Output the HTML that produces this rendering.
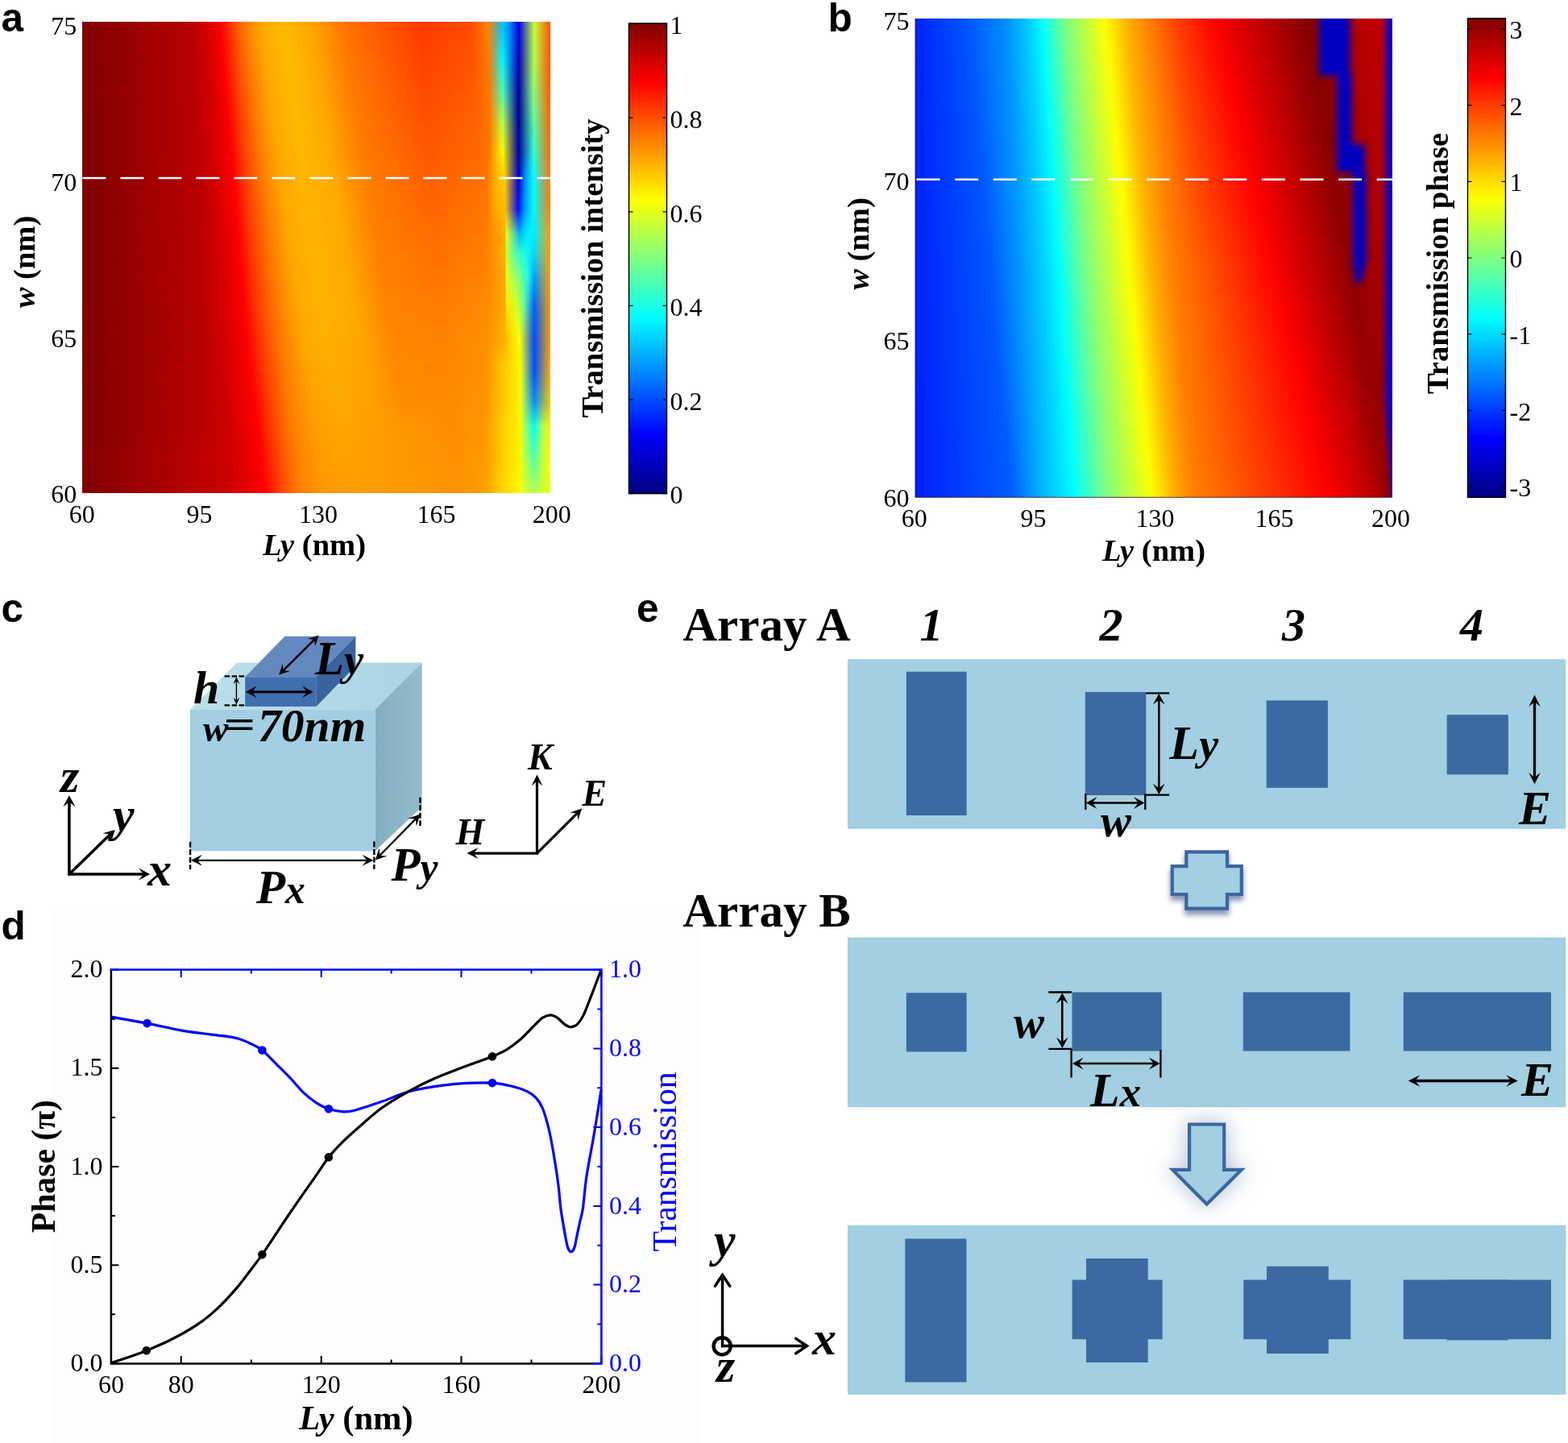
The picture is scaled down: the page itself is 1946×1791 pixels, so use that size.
<!DOCTYPE html>
<html lang="en"><head><meta charset="utf-8"><title>Figure</title>
<style>
html,body{margin:0;padding:0;background:#fff;}
svg{display:block;}
.se{font-family:'Liberation Serif',serif;}
.sa{font-family:'Liberation Sans',sans-serif;}
</style></head>
<body>
<svg width="1946" height="1791" viewBox="0 0 1946 1791">
<defs>
<linearGradient id="ga0"><stop offset="0.0000" stop-color="#800000"/><stop offset="0.2338" stop-color="#b80000"/><stop offset="0.2613" stop-color="#ce0000"/><stop offset="0.2681" stop-color="#d60000"/><stop offset="0.2888" stop-color="#f30000"/><stop offset="0.2956" stop-color="#fe0000"/><stop offset="0.3231" stop-color="#ff4600"/><stop offset="0.3506" stop-color="#ff8100"/><stop offset="0.3781" stop-color="#ffa400"/><stop offset="0.3850" stop-color="#ffaa00"/><stop offset="0.4263" stop-color="#ffbc00"/><stop offset="0.4881" stop-color="#ffa800"/><stop offset="0.5569" stop-color="#ff7500"/><stop offset="0.7288" stop-color="#ff3800"/><stop offset="0.8250" stop-color="#ff4b00"/><stop offset="0.8319" stop-color="#ff4e00"/><stop offset="0.8499" stop-color="#ff6a00"/><stop offset="0.8668" stop-color="#ff8400"/><stop offset="0.8981" stop-color="#00bdff"/><stop offset="0.9118" stop-color="#0094ff"/><stop offset="0.9319" stop-color="#0000f0"/><stop offset="0.9651" stop-color="#c7ff38"/><stop offset="1.0000" stop-color="#ff4c00"/></linearGradient><linearGradient id="ga1"><stop offset="0.0000" stop-color="#800000"/><stop offset="0.2338" stop-color="#b70000"/><stop offset="0.2681" stop-color="#d00000"/><stop offset="0.2956" stop-color="#f30000"/><stop offset="0.3025" stop-color="#fe0000"/><stop offset="0.3300" stop-color="#ff4400"/><stop offset="0.3575" stop-color="#ff7c00"/><stop offset="0.3919" stop-color="#ffa800"/><stop offset="0.4400" stop-color="#ffbb00"/><stop offset="0.5019" stop-color="#ffa700"/><stop offset="0.5706" stop-color="#ff7700"/><stop offset="0.7288" stop-color="#ff4200"/><stop offset="0.8319" stop-color="#ff5400"/><stop offset="0.8388" stop-color="#ff5800"/><stop offset="0.8499" stop-color="#ff6500"/><stop offset="0.8671" stop-color="#ff7800"/><stop offset="0.8981" stop-color="#00faff"/><stop offset="0.9319" stop-color="#0000bd"/><stop offset="0.9651" stop-color="#b3ff4c"/><stop offset="1.0000" stop-color="#ff4c00"/></linearGradient><linearGradient id="ga2"><stop offset="0.0000" stop-color="#800000"/><stop offset="0.2406" stop-color="#b90000"/><stop offset="0.2750" stop-color="#d20000"/><stop offset="0.3025" stop-color="#f50000"/><stop offset="0.3094" stop-color="#ff0000"/><stop offset="0.3369" stop-color="#ff4300"/><stop offset="0.3644" stop-color="#ff7800"/><stop offset="0.3713" stop-color="#ff8300"/><stop offset="0.3988" stop-color="#ffa400"/><stop offset="0.4056" stop-color="#ffa900"/><stop offset="0.4469" stop-color="#ffb900"/><stop offset="0.4538" stop-color="#ffb900"/><stop offset="0.5156" stop-color="#ffa600"/><stop offset="0.5775" stop-color="#ff7b00"/><stop offset="0.7356" stop-color="#ff4a00"/><stop offset="0.8388" stop-color="#ff5d00"/><stop offset="0.8499" stop-color="#ff6500"/><stop offset="0.8689" stop-color="#ff7500"/><stop offset="0.8981" stop-color="#57ffa8"/><stop offset="0.9319" stop-color="#00009e"/><stop offset="0.9634" stop-color="#80ff80"/><stop offset="1.0000" stop-color="#ff5700"/></linearGradient><linearGradient id="ga3"><stop offset="0.0000" stop-color="#800000"/><stop offset="0.2406" stop-color="#b80000"/><stop offset="0.2750" stop-color="#d00000"/><stop offset="0.2819" stop-color="#d60000"/><stop offset="0.3094" stop-color="#f70000"/><stop offset="0.3163" stop-color="#ff0400"/><stop offset="0.3438" stop-color="#ff4500"/><stop offset="0.3713" stop-color="#ff7800"/><stop offset="0.3781" stop-color="#ff8300"/><stop offset="0.4056" stop-color="#ffa300"/><stop offset="0.4125" stop-color="#ffa900"/><stop offset="0.4606" stop-color="#ffb900"/><stop offset="0.5225" stop-color="#ffa800"/><stop offset="0.5913" stop-color="#ff7a00"/><stop offset="0.7356" stop-color="#ff5200"/><stop offset="0.8457" stop-color="#ff6400"/><stop offset="0.8499" stop-color="#ff6800"/><stop offset="0.8689" stop-color="#ff7500"/><stop offset="0.8981" stop-color="#bdff42"/><stop offset="0.9316" stop-color="#000094"/><stop offset="0.9646" stop-color="#57ffa8"/><stop offset="1.0000" stop-color="#ff6100"/></linearGradient><linearGradient id="ga4"><stop offset="0.0000" stop-color="#800000"/><stop offset="0.2406" stop-color="#b70000"/><stop offset="0.2819" stop-color="#d30000"/><stop offset="0.3163" stop-color="#fa0000"/><stop offset="0.3231" stop-color="#ff0800"/><stop offset="0.3438" stop-color="#ff3900"/><stop offset="0.3506" stop-color="#ff4800"/><stop offset="0.3781" stop-color="#ff7800"/><stop offset="0.3850" stop-color="#ff8300"/><stop offset="0.4194" stop-color="#ffa900"/><stop offset="0.4675" stop-color="#ffb800"/><stop offset="0.5294" stop-color="#ffa900"/><stop offset="0.5981" stop-color="#ff7c00"/><stop offset="0.7425" stop-color="#ff5700"/><stop offset="0.8499" stop-color="#ff6b00"/><stop offset="0.8689" stop-color="#ff7600"/><stop offset="0.8981" stop-color="#fffa00"/><stop offset="0.9316" stop-color="#00009e"/><stop offset="0.9642" stop-color="#2effd1"/><stop offset="1.0000" stop-color="#ff6b00"/></linearGradient><linearGradient id="ga5"><stop offset="0.0000" stop-color="#800000"/><stop offset="0.2406" stop-color="#b70000"/><stop offset="0.2819" stop-color="#d10000"/><stop offset="0.2888" stop-color="#d60000"/><stop offset="0.3231" stop-color="#fd0000"/><stop offset="0.3300" stop-color="#ff0e00"/><stop offset="0.3506" stop-color="#ff3e00"/><stop offset="0.3850" stop-color="#ff7a00"/><stop offset="0.3919" stop-color="#ff8400"/><stop offset="0.4263" stop-color="#ffa900"/><stop offset="0.4744" stop-color="#ffb700"/><stop offset="0.5431" stop-color="#ffa700"/><stop offset="0.6050" stop-color="#ff7f00"/><stop offset="0.7425" stop-color="#ff5e00"/><stop offset="0.8499" stop-color="#ff6f00"/><stop offset="0.8637" stop-color="#ff7600"/><stop offset="0.8826" stop-color="#ffb300"/><stop offset="0.9015" stop-color="#ffd100"/><stop offset="0.9316" stop-color="#0000d1"/><stop offset="0.9479" stop-color="#009eff"/><stop offset="0.9634" stop-color="#05fffa"/><stop offset="1.0000" stop-color="#ff7500"/></linearGradient><linearGradient id="ga6"><stop offset="0.0000" stop-color="#800000"/><stop offset="0.2475" stop-color="#b80000"/><stop offset="0.2888" stop-color="#d30000"/><stop offset="0.3300" stop-color="#ff0100"/><stop offset="0.3575" stop-color="#ff3f00"/><stop offset="0.3919" stop-color="#ff7900"/><stop offset="0.3988" stop-color="#ff8300"/><stop offset="0.4331" stop-color="#ffa700"/><stop offset="0.4813" stop-color="#ffb500"/><stop offset="0.5500" stop-color="#ffa900"/><stop offset="0.6188" stop-color="#ff7f00"/><stop offset="0.7494" stop-color="#ff6500"/><stop offset="0.8499" stop-color="#ff7500"/><stop offset="0.8637" stop-color="#ff7a00"/><stop offset="0.8826" stop-color="#ffa800"/><stop offset="0.9032" stop-color="#ffbd00"/><stop offset="0.9307" stop-color="#000fff"/><stop offset="0.9445" stop-color="#0094ff"/><stop offset="0.9634" stop-color="#00faff"/><stop offset="1.0000" stop-color="#ff8000"/></linearGradient><linearGradient id="ga7"><stop offset="0.0000" stop-color="#800000"/><stop offset="0.2475" stop-color="#b80000"/><stop offset="0.2956" stop-color="#d60000"/><stop offset="0.3300" stop-color="#fa0000"/><stop offset="0.3369" stop-color="#ff0600"/><stop offset="0.3644" stop-color="#ff4300"/><stop offset="0.3988" stop-color="#ff7a00"/><stop offset="0.4400" stop-color="#ffa700"/><stop offset="0.4881" stop-color="#ffb400"/><stop offset="0.5569" stop-color="#ffa900"/><stop offset="0.6256" stop-color="#ff8000"/><stop offset="0.7494" stop-color="#ff6b00"/><stop offset="0.8499" stop-color="#ff7a00"/><stop offset="0.8637" stop-color="#ff7e00"/><stop offset="0.9032" stop-color="#ffb300"/><stop offset="0.9058" stop-color="#e5ff1a"/><stop offset="0.9342" stop-color="#00b2ff"/><stop offset="0.9514" stop-color="#00f0ff"/><stop offset="0.9651" stop-color="#00f0ff"/><stop offset="1.0000" stop-color="#ff9e00"/></linearGradient><linearGradient id="ga8"><stop offset="0.0000" stop-color="#800000"/><stop offset="0.2475" stop-color="#b70000"/><stop offset="0.2956" stop-color="#d40000"/><stop offset="0.3369" stop-color="#fe0000"/><stop offset="0.3644" stop-color="#ff3b00"/><stop offset="0.3713" stop-color="#ff4800"/><stop offset="0.4056" stop-color="#ff7e00"/><stop offset="0.4469" stop-color="#ffa800"/><stop offset="0.4950" stop-color="#ffb400"/><stop offset="0.5638" stop-color="#ffa900"/><stop offset="0.6325" stop-color="#ff8100"/><stop offset="0.7563" stop-color="#ff7000"/><stop offset="0.8499" stop-color="#ff7e00"/><stop offset="0.8637" stop-color="#ff8100"/><stop offset="0.9032" stop-color="#ffb300"/><stop offset="0.9058" stop-color="#c7ff38"/><stop offset="0.9256" stop-color="#4dffb2"/><stop offset="0.9462" stop-color="#1affe5"/><stop offset="0.9634" stop-color="#00dbff"/><stop offset="1.0000" stop-color="#ff9e00"/></linearGradient><linearGradient id="ga9"><stop offset="0.0000" stop-color="#800000"/><stop offset="0.2544" stop-color="#ba0000"/><stop offset="0.3025" stop-color="#d70000"/><stop offset="0.3369" stop-color="#fa0000"/><stop offset="0.3438" stop-color="#ff0400"/><stop offset="0.3713" stop-color="#ff3f00"/><stop offset="0.4125" stop-color="#ff7f00"/><stop offset="0.4538" stop-color="#ffa800"/><stop offset="0.5019" stop-color="#ffb300"/><stop offset="0.5706" stop-color="#ffa900"/><stop offset="0.6394" stop-color="#ff8200"/><stop offset="0.7563" stop-color="#ff7500"/><stop offset="0.8499" stop-color="#ff8300"/><stop offset="0.8637" stop-color="#ff8500"/><stop offset="0.9032" stop-color="#ffa800"/><stop offset="0.9058" stop-color="#e5ff1a"/><stop offset="0.9342" stop-color="#80ff80"/><stop offset="0.9514" stop-color="#1affe5"/><stop offset="0.9651" stop-color="#009eff"/><stop offset="1.0000" stop-color="#ff9e00"/></linearGradient><linearGradient id="ga10"><stop offset="0.0000" stop-color="#800000"/><stop offset="0.2544" stop-color="#b80000"/><stop offset="0.3025" stop-color="#d50000"/><stop offset="0.3438" stop-color="#fc0000"/><stop offset="0.3506" stop-color="#ff0800"/><stop offset="0.3781" stop-color="#ff4200"/><stop offset="0.4194" stop-color="#ff7f00"/><stop offset="0.4606" stop-color="#ffa800"/><stop offset="0.5156" stop-color="#ffb300"/><stop offset="0.5844" stop-color="#ffa800"/><stop offset="0.6463" stop-color="#ff8500"/><stop offset="0.7631" stop-color="#ff7c00"/><stop offset="0.8499" stop-color="#ff8900"/><stop offset="0.8637" stop-color="#ff8b00"/><stop offset="0.9032" stop-color="#ffa800"/><stop offset="0.9058" stop-color="#ffe500"/><stop offset="0.9290" stop-color="#d1ff2e"/><stop offset="0.9428" stop-color="#6bff94"/><stop offset="0.9651" stop-color="#0061ff"/><stop offset="1.0000" stop-color="#ff9e00"/></linearGradient><linearGradient id="ga11"><stop offset="0.0000" stop-color="#800000"/><stop offset="0.2544" stop-color="#b80000"/><stop offset="0.3094" stop-color="#d70000"/><stop offset="0.3506" stop-color="#fc0000"/><stop offset="0.3575" stop-color="#ff0800"/><stop offset="0.3850" stop-color="#ff4100"/><stop offset="0.4263" stop-color="#ff7d00"/><stop offset="0.4675" stop-color="#ffa400"/><stop offset="0.4744" stop-color="#ffa800"/><stop offset="0.5225" stop-color="#ffb000"/><stop offset="0.5981" stop-color="#ffa500"/><stop offset="0.6600" stop-color="#ff8700"/><stop offset="0.7700" stop-color="#ff8200"/><stop offset="0.8499" stop-color="#ff8e00"/><stop offset="0.8637" stop-color="#ff9000"/><stop offset="0.9032" stop-color="#ffb300"/><stop offset="0.9170" stop-color="#ffdb00"/><stop offset="0.9342" stop-color="#faff05"/><stop offset="0.9651" stop-color="#004dff"/><stop offset="1.0000" stop-color="#ff9e00"/></linearGradient><linearGradient id="ga12"><stop offset="0.0000" stop-color="#800000"/><stop offset="0.2544" stop-color="#b80000"/><stop offset="0.3094" stop-color="#d30000"/><stop offset="0.3575" stop-color="#fb0000"/><stop offset="0.3644" stop-color="#ff0600"/><stop offset="0.3919" stop-color="#ff3f00"/><stop offset="0.4331" stop-color="#ff7c00"/><stop offset="0.4813" stop-color="#ffa400"/><stop offset="0.5363" stop-color="#ffac00"/><stop offset="0.6050" stop-color="#ffa400"/><stop offset="0.6738" stop-color="#ff8900"/><stop offset="0.7769" stop-color="#ff8500"/><stop offset="0.8499" stop-color="#ff9100"/><stop offset="0.8637" stop-color="#ff9300"/><stop offset="0.8912" stop-color="#ffbd00"/><stop offset="0.9350" stop-color="#fff500"/><stop offset="0.9376" stop-color="#dbff24"/><stop offset="0.9651" stop-color="#004dff"/><stop offset="1.0000" stop-color="#ffb300"/></linearGradient><linearGradient id="ga13"><stop offset="0.0000" stop-color="#800000"/><stop offset="0.2544" stop-color="#b80000"/><stop offset="0.3094" stop-color="#d00000"/><stop offset="0.3644" stop-color="#fb0000"/><stop offset="0.3713" stop-color="#ff0300"/><stop offset="0.3988" stop-color="#ff3d00"/><stop offset="0.4400" stop-color="#ff7a00"/><stop offset="0.4469" stop-color="#ff8200"/><stop offset="0.4881" stop-color="#ff9f00"/><stop offset="0.5431" stop-color="#ffa900"/><stop offset="0.6188" stop-color="#ffa000"/><stop offset="0.6875" stop-color="#ff8c00"/><stop offset="0.7906" stop-color="#ff8a00"/><stop offset="0.8499" stop-color="#ff9500"/><stop offset="0.8637" stop-color="#ff9700"/><stop offset="0.8912" stop-color="#ffbd00"/><stop offset="0.9350" stop-color="#fff500"/><stop offset="0.9376" stop-color="#dbff24"/><stop offset="0.9651" stop-color="#0094ff"/><stop offset="1.0000" stop-color="#ffc700"/></linearGradient><linearGradient id="ga14"><stop offset="0.0000" stop-color="#800000"/><stop offset="0.2544" stop-color="#b80000"/><stop offset="0.3163" stop-color="#d20000"/><stop offset="0.3713" stop-color="#fc0000"/><stop offset="0.3781" stop-color="#ff0500"/><stop offset="0.4056" stop-color="#ff3f00"/><stop offset="0.4469" stop-color="#ff7c00"/><stop offset="0.4538" stop-color="#ff8200"/><stop offset="0.4950" stop-color="#ff9d00"/><stop offset="0.5500" stop-color="#ffa600"/><stop offset="0.7906" stop-color="#ff8c00"/><stop offset="0.8499" stop-color="#ff9700"/><stop offset="0.8637" stop-color="#ff9a00"/><stop offset="0.8912" stop-color="#ffc700"/><stop offset="0.9350" stop-color="#fff500"/><stop offset="0.9376" stop-color="#dbff24"/><stop offset="0.9651" stop-color="#05fffa"/><stop offset="0.9840" stop-color="#b3ff4c"/><stop offset="1.0000" stop-color="#fff000"/></linearGradient><linearGradient id="ga15"><stop offset="0.0000" stop-color="#800000"/><stop offset="0.3163" stop-color="#ce0000"/><stop offset="0.3781" stop-color="#fb0000"/><stop offset="0.3850" stop-color="#ff0300"/><stop offset="0.4125" stop-color="#ff3c00"/><stop offset="0.4538" stop-color="#ff7a00"/><stop offset="0.4606" stop-color="#ff8100"/><stop offset="0.5088" stop-color="#ff9c00"/><stop offset="0.5638" stop-color="#ffa200"/><stop offset="0.8044" stop-color="#ff9000"/><stop offset="0.8499" stop-color="#ff9a00"/><stop offset="0.8637" stop-color="#ff9d00"/><stop offset="0.8912" stop-color="#ffc700"/><stop offset="0.9350" stop-color="#fff500"/><stop offset="0.9376" stop-color="#e5ff1a"/><stop offset="0.9651" stop-color="#4dffb2"/><stop offset="0.9840" stop-color="#c7ff38"/><stop offset="1.0000" stop-color="#fffa00"/></linearGradient><linearGradient id="ga16"><stop offset="0.0000" stop-color="#800000"/><stop offset="0.3163" stop-color="#cb0000"/><stop offset="0.3919" stop-color="#ff0000"/><stop offset="0.4194" stop-color="#ff3900"/><stop offset="0.4263" stop-color="#ff4600"/><stop offset="0.4606" stop-color="#ff7800"/><stop offset="0.4675" stop-color="#ff8000"/><stop offset="0.5156" stop-color="#ff9700"/><stop offset="0.5775" stop-color="#ff9e00"/><stop offset="0.8113" stop-color="#ff9400"/><stop offset="0.8499" stop-color="#ff9d00"/><stop offset="0.8637" stop-color="#ffa100"/><stop offset="0.8912" stop-color="#ffd100"/><stop offset="0.9350" stop-color="#fff500"/><stop offset="0.9376" stop-color="#e5ff1a"/><stop offset="0.9651" stop-color="#b3ff4c"/><stop offset="1.0000" stop-color="#e5ff1a"/></linearGradient>
<linearGradient id="gb0"><stop offset="0.0000" stop-color="#0024ff"/><stop offset="0.1081" stop-color="#0054ff"/><stop offset="0.1893" stop-color="#008fff"/><stop offset="0.2366" stop-color="#00cdff"/><stop offset="0.2636" stop-color="#00fcff"/><stop offset="0.2704" stop-color="#0dfff2"/><stop offset="0.3109" stop-color="#73ff8c"/><stop offset="0.3177" stop-color="#82ff7d"/><stop offset="0.3920" stop-color="#f6ff09"/><stop offset="0.3988" stop-color="#fffe00"/><stop offset="0.4393" stop-color="#ffb800"/><stop offset="0.4461" stop-color="#ffaf00"/><stop offset="0.5475" stop-color="#ff4100"/><stop offset="0.6218" stop-color="#ff0300"/><stop offset="0.6286" stop-color="#fd0000"/><stop offset="0.8246" stop-color="#810000"/><stop offset="0.8314" stop-color="#820000"/><stop offset="0.9057" stop-color="#b10000"/><stop offset="1.0000" stop-color="#c70000"/></linearGradient><linearGradient id="gb1"><stop offset="0.0000" stop-color="#0023ff"/><stop offset="0.1149" stop-color="#0052ff"/><stop offset="0.1960" stop-color="#0091ff"/><stop offset="0.2501" stop-color="#00d6ff"/><stop offset="0.2704" stop-color="#00f9ff"/><stop offset="0.2771" stop-color="#08fff7"/><stop offset="0.3244" stop-color="#7aff85"/><stop offset="0.3785" stop-color="#d1ff2e"/><stop offset="0.4055" stop-color="#f8ff07"/><stop offset="0.4123" stop-color="#fffb00"/><stop offset="0.4529" stop-color="#ffb600"/><stop offset="0.5678" stop-color="#ff4100"/><stop offset="0.6556" stop-color="#ff0000"/><stop offset="0.8449" stop-color="#840000"/><stop offset="0.8516" stop-color="#850000"/><stop offset="0.9192" stop-color="#af0000"/><stop offset="1.0000" stop-color="#c10000"/></linearGradient><linearGradient id="gb2"><stop offset="0.0000" stop-color="#0022ff"/><stop offset="0.1284" stop-color="#0054ff"/><stop offset="0.2028" stop-color="#0093ff"/><stop offset="0.2568" stop-color="#00d5ff"/><stop offset="0.2771" stop-color="#00f6ff"/><stop offset="0.2839" stop-color="#04fffb"/><stop offset="0.3380" stop-color="#81ff7e"/><stop offset="0.4191" stop-color="#faff05"/><stop offset="0.4258" stop-color="#fff900"/><stop offset="0.4664" stop-color="#ffb300"/><stop offset="0.5813" stop-color="#ff4600"/><stop offset="0.6827" stop-color="#ff0100"/><stop offset="0.8652" stop-color="#870000"/><stop offset="0.8719" stop-color="#890000"/><stop offset="0.9260" stop-color="#a90000"/><stop offset="1.0000" stop-color="#ba0000"/></linearGradient><linearGradient id="gb3"><stop offset="0.0000" stop-color="#0022ff"/><stop offset="0.1419" stop-color="#0056ff"/><stop offset="0.2163" stop-color="#009cff"/><stop offset="0.2636" stop-color="#00d5ff"/><stop offset="0.2906" stop-color="#00feff"/><stop offset="0.3447" stop-color="#79ff86"/><stop offset="0.3515" stop-color="#85ff7a"/><stop offset="0.4326" stop-color="#fcff03"/><stop offset="0.4393" stop-color="#fff700"/><stop offset="0.4799" stop-color="#ffb200"/><stop offset="0.5272" stop-color="#ff7f00"/><stop offset="0.6083" stop-color="#ff4100"/><stop offset="0.7097" stop-color="#ff0300"/><stop offset="0.7165" stop-color="#fe0000"/><stop offset="0.8854" stop-color="#8b0000"/><stop offset="0.8922" stop-color="#8c0000"/><stop offset="0.9395" stop-color="#a70000"/><stop offset="1.0000" stop-color="#b40000"/></linearGradient><linearGradient id="gb4"><stop offset="0.0000" stop-color="#0021ff"/><stop offset="0.1487" stop-color="#0055ff"/><stop offset="0.1555" stop-color="#0059ff"/><stop offset="0.2230" stop-color="#009dff"/><stop offset="0.2771" stop-color="#00deff"/><stop offset="0.2974" stop-color="#00fcff"/><stop offset="0.3042" stop-color="#0afff5"/><stop offset="0.3582" stop-color="#80ff80"/><stop offset="0.4461" stop-color="#feff01"/><stop offset="0.4934" stop-color="#ffb000"/><stop offset="0.5407" stop-color="#ff7e00"/><stop offset="0.7435" stop-color="#ff0000"/><stop offset="0.9057" stop-color="#8e0000"/><stop offset="0.9125" stop-color="#8f0000"/><stop offset="0.9530" stop-color="#a40000"/><stop offset="1.0000" stop-color="#ad0000"/></linearGradient><linearGradient id="gb5"><stop offset="0.0000" stop-color="#0021ff"/><stop offset="0.1622" stop-color="#0057ff"/><stop offset="0.1690" stop-color="#005cff"/><stop offset="0.2839" stop-color="#00ddff"/><stop offset="0.3042" stop-color="#00faff"/><stop offset="0.3109" stop-color="#06fff9"/><stop offset="0.3650" stop-color="#78ff87"/><stop offset="0.3717" stop-color="#84ff7b"/><stop offset="0.4529" stop-color="#f7ff08"/><stop offset="0.4596" stop-color="#fffe00"/><stop offset="0.5002" stop-color="#ffb800"/><stop offset="0.5069" stop-color="#ffaf00"/><stop offset="0.5475" stop-color="#ff8200"/><stop offset="0.7705" stop-color="#ff0200"/><stop offset="0.7773" stop-color="#fd0000"/><stop offset="0.9057" stop-color="#a20000"/><stop offset="0.9260" stop-color="#910000"/><stop offset="0.9665" stop-color="#a00000"/><stop offset="1.0000" stop-color="#a70000"/></linearGradient><linearGradient id="gb6"><stop offset="0.0000" stop-color="#0020ff"/><stop offset="0.1757" stop-color="#0059ff"/><stop offset="0.2906" stop-color="#00ddff"/><stop offset="0.3109" stop-color="#00f7ff"/><stop offset="0.3177" stop-color="#02fffd"/><stop offset="0.3785" stop-color="#7eff81"/><stop offset="0.4664" stop-color="#f8ff07"/><stop offset="0.4731" stop-color="#fffc00"/><stop offset="0.5137" stop-color="#ffb600"/><stop offset="0.5610" stop-color="#ff7f00"/><stop offset="0.8043" stop-color="#ff0000"/><stop offset="0.9260" stop-color="#a70000"/><stop offset="0.9463" stop-color="#940000"/><stop offset="1.0000" stop-color="#a10000"/></linearGradient><linearGradient id="gb7"><stop offset="0.0000" stop-color="#001fff"/><stop offset="0.1893" stop-color="#005aff"/><stop offset="0.2501" stop-color="#00a9ff"/><stop offset="0.3244" stop-color="#00feff"/><stop offset="0.3920" stop-color="#82ff7d"/><stop offset="0.4799" stop-color="#faff05"/><stop offset="0.4867" stop-color="#fffa00"/><stop offset="0.5272" stop-color="#ffb300"/><stop offset="0.5678" stop-color="#ff8400"/><stop offset="0.5745" stop-color="#ff7e00"/><stop offset="0.8314" stop-color="#ff0100"/><stop offset="0.9125" stop-color="#c90000"/><stop offset="0.9665" stop-color="#970000"/><stop offset="1.0000" stop-color="#9a0000"/></linearGradient><linearGradient id="gb8"><stop offset="0.0000" stop-color="#001fff"/><stop offset="0.2028" stop-color="#005dff"/><stop offset="0.2568" stop-color="#00abff"/><stop offset="0.3312" stop-color="#00fcff"/><stop offset="0.3380" stop-color="#08fff7"/><stop offset="0.3988" stop-color="#7cff83"/><stop offset="0.4934" stop-color="#fcff03"/><stop offset="0.5002" stop-color="#fff800"/><stop offset="0.5407" stop-color="#ffb200"/><stop offset="0.5813" stop-color="#ff8200"/><stop offset="0.8584" stop-color="#ff0200"/><stop offset="0.8652" stop-color="#fe0000"/><stop offset="0.9463" stop-color="#c40000"/><stop offset="0.9733" stop-color="#aa0000"/><stop offset="0.9868" stop-color="#9a0000"/><stop offset="0.9936" stop-color="#940000"/><stop offset="1.0000" stop-color="#940000"/></linearGradient>
<linearGradient id="cb" x1="0" y1="0" x2="0" y2="1"><stop offset="0.0000" stop-color="#800000"/><stop offset="0.0312" stop-color="#9f0000"/><stop offset="0.0625" stop-color="#bf0000"/><stop offset="0.0938" stop-color="#df0000"/><stop offset="0.1250" stop-color="#ff0000"/><stop offset="0.1562" stop-color="#ff2000"/><stop offset="0.1875" stop-color="#ff4000"/><stop offset="0.2188" stop-color="#ff6000"/><stop offset="0.2500" stop-color="#ff8000"/><stop offset="0.2812" stop-color="#ff9f00"/><stop offset="0.3125" stop-color="#ffbf00"/><stop offset="0.3438" stop-color="#ffdf00"/><stop offset="0.3750" stop-color="#ffff00"/><stop offset="0.4062" stop-color="#dfff20"/><stop offset="0.4375" stop-color="#bfff40"/><stop offset="0.4688" stop-color="#9fff60"/><stop offset="0.5000" stop-color="#80ff80"/><stop offset="0.5312" stop-color="#60ff9f"/><stop offset="0.5625" stop-color="#40ffbf"/><stop offset="0.5938" stop-color="#20ffdf"/><stop offset="0.6250" stop-color="#00ffff"/><stop offset="0.6562" stop-color="#00dfff"/><stop offset="0.6875" stop-color="#00bfff"/><stop offset="0.7188" stop-color="#009fff"/><stop offset="0.7500" stop-color="#0080ff"/><stop offset="0.7812" stop-color="#0060ff"/><stop offset="0.8125" stop-color="#0040ff"/><stop offset="0.8438" stop-color="#0020ff"/><stop offset="0.8750" stop-color="#0000ff"/><stop offset="0.9062" stop-color="#0000df"/><stop offset="0.9375" stop-color="#0000bf"/><stop offset="0.9688" stop-color="#00009f"/><stop offset="1.0000" stop-color="#000080"/></linearGradient><linearGradient id="vg" x1="0" y1="0" x2="0" y2="1"><stop offset="0" stop-color="#000"/><stop offset="1" stop-color="#fff"/></linearGradient><mask id="vm" maskContentUnits="objectBoundingBox"><rect width="1" height="1" fill="url(#vg)"/></mask>
<filter id="bl" x="-50%" y="-10%" width="200%" height="120%"><feGaussianBlur stdDeviation="4.5"/></filter><filter id="bl2" x="-100%" y="-10%" width="300%" height="120%"><feGaussianBlur stdDeviation="4"/></filter><clipPath id="cpb"><rect x="1136.0" y="23" width="591.8" height="594"/></clipPath>
<linearGradient id="ctop" x1="0" y1="0" x2="1" y2="0"><stop offset="0" stop-color="#bcdfea"/><stop offset="1" stop-color="#aad4e4"/></linearGradient><linearGradient id="crt" x1="0" y1="0" x2="1" y2="0"><stop offset="0" stop-color="#84adc0"/><stop offset="1" stop-color="#93bccd"/></linearGradient>
<filter id="sh1" x="-30%" y="-30%" width="160%" height="180%"><feGaussianBlur stdDeviation="3.4"/></filter><filter id="sh2" x="-80%" y="-80%" width="260%" height="260%"><feGaussianBlur stdDeviation="13"/></filter>
</defs>
<rect width="1946" height="1791" fill="#fff"/>
<g><g shape-rendering="crispEdges"><rect x="101.5" y="27" width="581.80" height="48" fill="url(#ga0)"/><rect x="101.5" y="27" width="581.80" height="48" fill="url(#ga1)" mask="url(#vm)"/><rect x="101.5" y="75" width="581.80" height="45" fill="url(#ga1)"/><rect x="101.5" y="75" width="581.80" height="45" fill="url(#ga2)" mask="url(#vm)"/><rect x="101.5" y="120" width="581.80" height="35" fill="url(#ga2)"/><rect x="101.5" y="120" width="581.80" height="35" fill="url(#ga3)" mask="url(#vm)"/><rect x="101.5" y="155" width="581.80" height="35" fill="url(#ga3)"/><rect x="101.5" y="155" width="581.80" height="35" fill="url(#ga4)" mask="url(#vm)"/><rect x="101.5" y="190" width="581.80" height="31" fill="url(#ga4)"/><rect x="101.5" y="190" width="581.80" height="31" fill="url(#ga5)" mask="url(#vm)"/><rect x="101.5" y="221" width="581.80" height="39" fill="url(#ga5)"/><rect x="101.5" y="221" width="581.80" height="39" fill="url(#ga6)" mask="url(#vm)"/><rect x="101.5" y="260" width="581.80" height="30" fill="url(#ga6)"/><rect x="101.5" y="260" width="581.80" height="30" fill="url(#ga7)" mask="url(#vm)"/><rect x="101.5" y="290" width="581.80" height="25" fill="url(#ga7)"/><rect x="101.5" y="290" width="581.80" height="25" fill="url(#ga8)" mask="url(#vm)"/><rect x="101.5" y="315" width="581.80" height="30" fill="url(#ga8)"/><rect x="101.5" y="315" width="581.80" height="30" fill="url(#ga9)" mask="url(#vm)"/><rect x="101.5" y="345" width="581.80" height="35" fill="url(#ga9)"/><rect x="101.5" y="345" width="581.80" height="35" fill="url(#ga10)" mask="url(#vm)"/><rect x="101.5" y="380" width="581.80" height="40" fill="url(#ga10)"/><rect x="101.5" y="380" width="581.80" height="40" fill="url(#ga11)" mask="url(#vm)"/><rect x="101.5" y="420" width="581.80" height="40" fill="url(#ga11)"/><rect x="101.5" y="420" width="581.80" height="40" fill="url(#ga12)" mask="url(#vm)"/><rect x="101.5" y="460" width="581.80" height="40" fill="url(#ga12)"/><rect x="101.5" y="460" width="581.80" height="40" fill="url(#ga13)" mask="url(#vm)"/><rect x="101.5" y="500" width="581.80" height="30" fill="url(#ga13)"/><rect x="101.5" y="500" width="581.80" height="30" fill="url(#ga14)" mask="url(#vm)"/><rect x="101.5" y="530" width="581.80" height="40" fill="url(#ga14)"/><rect x="101.5" y="530" width="581.80" height="40" fill="url(#ga15)" mask="url(#vm)"/><rect x="101.5" y="570" width="581.80" height="42" fill="url(#ga15)"/><rect x="101.5" y="570" width="581.80" height="42" fill="url(#ga16)" mask="url(#vm)"/></g></g>
<g><g shape-rendering="crispEdges"><rect x="1136.0" y="23" width="591.80" height="74" fill="url(#gb0)"/><rect x="1136.0" y="23" width="591.80" height="74" fill="url(#gb1)" mask="url(#vm)"/><rect x="1136.0" y="97" width="591.80" height="74" fill="url(#gb1)"/><rect x="1136.0" y="97" width="591.80" height="74" fill="url(#gb2)" mask="url(#vm)"/><rect x="1136.0" y="171" width="591.80" height="75" fill="url(#gb2)"/><rect x="1136.0" y="171" width="591.80" height="75" fill="url(#gb3)" mask="url(#vm)"/><rect x="1136.0" y="246" width="591.80" height="74" fill="url(#gb3)"/><rect x="1136.0" y="246" width="591.80" height="74" fill="url(#gb4)" mask="url(#vm)"/><rect x="1136.0" y="320" width="591.80" height="74" fill="url(#gb4)"/><rect x="1136.0" y="320" width="591.80" height="74" fill="url(#gb5)" mask="url(#vm)"/><rect x="1136.0" y="394" width="591.80" height="75" fill="url(#gb5)"/><rect x="1136.0" y="394" width="591.80" height="75" fill="url(#gb6)" mask="url(#vm)"/><rect x="1136.0" y="469" width="591.80" height="74" fill="url(#gb6)"/><rect x="1136.0" y="469" width="591.80" height="74" fill="url(#gb7)" mask="url(#vm)"/><rect x="1136.0" y="543" width="591.80" height="74" fill="url(#gb7)"/><rect x="1136.0" y="543" width="591.80" height="74" fill="url(#gb8)" mask="url(#vm)"/></g></g>
<g><text x="1.5" y="38.5" font-size="49.5" class="sa" font-weight="bold">a</text><line x1="102.5" y1="221" x2="683" y2="221" stroke="#fff" stroke-width="2.6" stroke-dasharray="29 18"/><text x="95.3" y="42.7" font-size="32" class="se" text-anchor="end">75</text><text x="95.3" y="236.5" font-size="32" class="se" text-anchor="end">70</text><text x="95.3" y="430.5" font-size="32" class="se" text-anchor="end">65</text><text x="95.3" y="623.7" font-size="32" class="se" text-anchor="end">60</text><text x="101.7" y="648.8" font-size="32" class="se" text-anchor="middle">60</text><text x="247.4" y="648.8" font-size="32" class="se" text-anchor="middle">95</text><text x="395" y="648.8" font-size="32" class="se" text-anchor="middle">130</text><text x="541.5" y="648.8" font-size="32" class="se" text-anchor="middle">165</text><text x="684.7" y="648.8" font-size="32" class="se" text-anchor="middle">200</text><text x="390" y="689" font-size="38.6" class="se" text-anchor="middle" font-weight="bold"><tspan font-style="italic">Ly</tspan> (nm)</text><text transform="translate(42.5 325) rotate(-90)" font-size="38.6" class="se" text-anchor="middle" font-weight="bold"><tspan font-style="italic">w</tspan> (nm)</text><rect x="780.5" y="29" width="47" height="583.6" fill="url(#cb)" stroke="#000" stroke-width="1.5"/><path d="M780.5 29.6h5M827.5 29.6h-5" stroke="#000" stroke-width="1.2"/><text x="831.5" y="42.3" font-size="32" class="se">1</text><path d="M780.5 146.2h5M827.5 146.2h-5" stroke="#000" stroke-width="1.2"/><text x="831.5" y="158.9" font-size="32" class="se">0.8</text><path d="M780.5 262.8h5M827.5 262.8h-5" stroke="#000" stroke-width="1.2"/><text x="831.5" y="275.5" font-size="32" class="se">0.6</text><path d="M780.5 379.4h5M827.5 379.4h-5" stroke="#000" stroke-width="1.2"/><text x="831.5" y="392.1" font-size="32" class="se">0.4</text><path d="M780.5 496.0h5M827.5 496.0h-5" stroke="#000" stroke-width="1.2"/><text x="831.5" y="508.7" font-size="32" class="se">0.2</text><path d="M780.5 612.6h5M827.5 612.6h-5" stroke="#000" stroke-width="1.2"/><text x="831.5" y="625.3" font-size="32" class="se">0</text><text transform="translate(748 333) rotate(-90)" font-size="38.6" class="se" text-anchor="middle" font-weight="bold">Transmission intensity</text><text x="1027.5" y="38.5" font-size="49.5" class="sa" font-weight="bold">b</text><g clip-path="url(#cpb)"><path filter="url(#bl)" d="M1637 0H1676V92H1678V179H1694V212H1696V325L1689 352H1682L1679 325V214H1659V94H1637Z" fill="#0000c0"/><path filter="url(#bl2)" d="M1720 0H1745V640H1729L1726 590L1720 500Z" fill="#0000d8"/></g><path d="M1136.0 23V617.3H1727.8" stroke="#200" stroke-width="1" fill="none" opacity="0.8"/><line x1="1137.5" y1="222.7" x2="1728" y2="222.7" stroke="#fff" stroke-width="2.6" stroke-dasharray="29 18.6"/><text x="1128.5" y="37" font-size="32" class="se" text-anchor="end">75</text><text x="1128.5" y="235.5" font-size="32" class="se" text-anchor="end">70</text><text x="1128.5" y="434" font-size="32" class="se" text-anchor="end">65</text><text x="1128.5" y="629" font-size="32" class="se" text-anchor="end">60</text><text x="1134.7" y="654.2" font-size="32" class="se" text-anchor="middle">60</text><text x="1282.5" y="654.2" font-size="32" class="se" text-anchor="middle">95</text><text x="1433.5" y="654.2" font-size="32" class="se" text-anchor="middle">130</text><text x="1581.5" y="654.2" font-size="32" class="se" text-anchor="middle">165</text><text x="1726" y="654.2" font-size="32" class="se" text-anchor="middle">200</text><text x="1432" y="696" font-size="38.6" class="se" text-anchor="middle" font-weight="bold"><tspan font-style="italic">Ly</tspan> (nm)</text><text transform="translate(1077.5 302.5) rotate(-90)" font-size="38.6" class="se" text-anchor="middle" font-weight="bold"><tspan font-style="italic">w</tspan> (nm)</text><rect x="1821.5" y="22.8" width="47" height="594.5" fill="url(#cb)" stroke="#000" stroke-width="1.4"/><path d="M1821.5 35.9h5M1868.5 35.9h-5" stroke="#000" stroke-width="1.2"/><text x="1873.6" y="48.0" font-size="32" class="se">3</text><path d="M1821.5 130.6h5M1868.5 130.6h-5" stroke="#000" stroke-width="1.2"/><text x="1873.6" y="142.7" font-size="32" class="se">2</text><path d="M1821.5 225.3h5M1868.5 225.3h-5" stroke="#000" stroke-width="1.2"/><text x="1873.6" y="237.4" font-size="32" class="se">1</text><path d="M1821.5 320.0h5M1868.5 320.0h-5" stroke="#000" stroke-width="1.2"/><text x="1873.6" y="332.1" font-size="32" class="se">0</text><path d="M1821.5 414.7h5M1868.5 414.7h-5" stroke="#000" stroke-width="1.2"/><text x="1873.6" y="426.8" font-size="32" class="se">-1</text><path d="M1821.5 509.4h5M1868.5 509.4h-5" stroke="#000" stroke-width="1.2"/><text x="1873.6" y="521.5" font-size="32" class="se">-2</text><path d="M1821.5 604.1h5M1868.5 604.1h-5" stroke="#000" stroke-width="1.2"/><text x="1873.6" y="616.2" font-size="32" class="se">-3</text><text transform="translate(1796.5 327) rotate(-90)" font-size="38.6" class="se" text-anchor="middle" font-weight="bold">Transmission phase</text></g>
<g><text x="1.5" y="772" font-size="49.5" class="sa" font-weight="bold">c</text><path d="M236 880.5H465.5L523.7 822.4H294.3Z" fill="url(#ctop)"/><path d="M465.5 880.5L523.7 822.4V1001.5L465.5 1056.3Z" fill="url(#crt)"/><rect x="236" y="880.5" width="229.5" height="175.8" fill="#a2cfe1"/><path d="M304.2 840.3H392.4L441.4 789.8H353.5Z" fill="#6388be"/><path d="M392.4 840.3L441.4 789.8V826.4L392.4 876.9Z" fill="#3a639e"/><rect x="304.2" y="840.3" width="88.2" height="36.6" fill="#3f6fae"/><path d="M350.9 832.8L390.9 793.2" stroke="#000" stroke-width="2.6" fill="none"/><path d="M395.7 788.5L390.9 802.2L390.3 793.8L382.0 793.1ZM346.1 837.5L350.9 823.8L351.5 832.2L359.8 832.9Z" fill="#000"/><path d="M312.0 858.8L381.7 858.8" stroke="#000" stroke-width="3.0" fill="none"/><path d="M388.7 858.8L375.2 866.0L380.9 858.8L375.2 851.6ZM305.0 858.8L318.5 851.6L312.8 858.8L318.5 866.0Z" fill="#000"/><path d="M278.6 839.3H304M278.6 875.4H304" stroke="#000" stroke-width="2.2" stroke-dasharray="6.5 2.5" fill="none"/><path d="M293.4 844.4L293.4 870.4" stroke="#000" stroke-width="1.4" fill="none"/><path d="M293.4 874.8L289.4 865.8L293.4 869.6L297.4 865.8ZM293.4 840.0L297.4 849.0L293.4 845.2L289.4 849.0Z" fill="#000"/><text x="240" y="872.7" font-size="58" class="se" font-weight="bold" font-style="italic">h</text><text x="391" y="836.6" font-size="59" class="se" font-weight="bold" font-style="italic">L<tspan font-size="54.3">y</tspan></text><text class="se" font-weight="bold" font-style="italic"><tspan x="252" y="920.2" font-size="47">w</tspan><tspan x="277" y="915" font-size="48" textLength="39.7" lengthAdjust="spacingAndGlyphs">=</tspan><tspan x="320" y="920.2" font-size="57.6">70nm</tspan></text><path d="M85.9 1086.5L85.9 994.6" stroke="#000" stroke-width="3.6" fill="none"/><path d="M85.9 987.3L93.5 1001.3L85.9 995.4L78.3 1001.3Z" fill="#000"/><path d="M85.9 1085.0L137.4 1035.0" stroke="#000" stroke-width="3.6" fill="none"/><path d="M142.7 1029.9L137.9 1045.1L136.9 1035.6L127.4 1034.2Z" fill="#000"/><path d="M84.4 1085.0L178.8 1085.0" stroke="#000" stroke-width="3.6" fill="none"/><path d="M186.1 1085.0L172.1 1092.6L178.0 1085.0L172.1 1077.4Z" fill="#000"/><text x="75" y="983" font-size="60" class="se" font-weight="bold" font-style="italic">z</text><text x="140" y="1031" font-size="60" class="se" font-weight="bold" font-style="italic">y</text><text x="183" y="1099" font-size="60" class="se" font-weight="bold" font-style="italic">x</text><path d="M236.1 1044.7V1079M464.4 1044.5V1078.7M521.5 989.8V1025" stroke="#000" stroke-width="2.4" stroke-dasharray="7 2.5" fill="none"/><path d="M244.3 1067.8L456.2 1067.8" stroke="#000" stroke-width="2.3" fill="none"/><path d="M463.5 1067.8L449.5 1074.8L455.4 1067.8L449.5 1060.8ZM237.0 1067.8L251.0 1060.8L245.1 1067.8L251.0 1074.8Z" fill="#000"/><path d="M470.9 1062.3L516.5 1015.8" stroke="#000" stroke-width="2.3" fill="none"/><path d="M521.6 1010.6L516.8 1025.5L515.9 1016.4L506.8 1015.7ZM465.8 1067.5L470.6 1052.6L471.5 1061.7L480.6 1062.4Z" fill="#000"/><text x="318" y="1120.5" font-size="59" class="se" font-weight="bold" font-style="italic">P<tspan font-size="49.6">x</tspan></text><text x="485.5" y="1093.3" font-size="59" class="se" font-weight="bold" font-style="italic">P<tspan font-size="49.6">y</tspan></text><path d="M666.5 1060.5L666.5 968.8" stroke="#000" stroke-width="3.2" fill="none"/><path d="M666.5 961.5L673.5 975.5L666.5 969.6L659.5 975.5Z" fill="#000"/><path d="M667.9 1059.1L586.9 1059.1" stroke="#000" stroke-width="3.2" fill="none"/><path d="M579.6 1059.1L593.6 1052.1L587.7 1059.1L593.6 1066.1Z" fill="#000"/><path d="M666.5 1059.1L717.0 1008.7" stroke="#000" stroke-width="3.2" fill="none"/><path d="M722.2 1003.5L717.2 1018.3L716.5 1009.2L707.3 1008.4Z" fill="#000"/><text x="655" y="955" font-size="46" class="se" font-weight="bold" font-style="italic">K</text><text x="722.5" y="1000" font-size="46" class="se" font-weight="bold" font-style="italic">E</text><text x="565.5" y="1047.8" font-size="46" class="se" font-weight="bold" font-style="italic">H</text></g>
<g><rect x="66" y="1131" width="802" height="660" fill="#fdfdfd"/><text x="1.5" y="1166" font-size="49.5" class="sa" font-weight="bold">d</text><path d="M137.9 1692.4h9.5M137.9 1631.3h5M137.9 1570.2h9.5M137.9 1509.1h5M137.9 1448.0h9.5M137.9 1386.9h5M137.9 1325.8h9.5M137.9 1264.7h5M137.9 1203.6h9.5M224.8 1692.4v-9.5M311.8 1692.4v-5M398.7 1692.4v-9.5M485.6 1692.4v-5M572.5 1692.4v-9.5M659.5 1692.4v-5M746.4 1692.4v-9.5" stroke="#000" stroke-width="2" fill="none"/><path d="M224.8 1203.6v9.5M311.8 1203.6v5M398.7 1203.6v9.5M485.6 1203.6v5M572.5 1203.6v9.5M659.5 1203.6v5M746.4 1203.6v9.5M746.4 1692.4h-10M746.4 1643.5h-5M746.4 1594.6h-10M746.4 1545.8h-5M746.4 1496.9h-10M746.4 1448.0h-5M746.4 1399.1h-10M746.4 1350.2h-5M746.4 1301.4h-10M746.4 1252.5h-5M746.4 1203.6h-10" stroke="#0000ff" stroke-width="2" fill="none"/><path d="M138.2 1262.2C145.6 1263.5 167.5 1267.2 182.6 1270.1C197.7 1273.0 212.8 1277.0 228.7 1279.6C244.6 1282.2 267.1 1284.4 278.0 1285.9C288.9 1287.4 288.9 1287.2 294.4 1288.7C299.9 1290.2 305.7 1292.7 310.9 1295.2C316.1 1297.7 319.9 1299.1 325.4 1303.5C330.9 1307.9 338.0 1315.8 343.8 1321.6C349.6 1327.3 354.7 1332.2 360.2 1338.0C365.7 1343.8 371.2 1350.9 376.7 1356.1C382.2 1361.3 387.9 1365.8 393.1 1369.2C398.3 1372.6 402.4 1374.5 407.9 1376.3C413.4 1378.1 420.6 1379.6 426.0 1379.9C431.4 1380.2 432.2 1380.3 440.0 1378.3C447.8 1376.2 461.9 1371.4 472.9 1367.6C483.9 1363.8 494.8 1358.4 505.8 1355.3C516.8 1352.2 527.7 1350.4 538.7 1348.7C549.7 1347.0 559.6 1345.7 571.6 1344.9C583.6 1344.1 600.0 1343.5 611.0 1344.1C622.0 1344.7 630.2 1347.0 637.3 1348.7C644.4 1350.4 649.1 1352.1 653.8 1354.4C658.5 1356.7 662.0 1359.1 665.3 1362.7C668.6 1366.3 671.0 1370.0 673.5 1375.8C676.0 1381.5 678.2 1389.8 680.1 1397.2C682.0 1404.6 683.4 1411.4 685.0 1420.2C686.6 1429.0 688.6 1441.2 690.0 1450.0C691.4 1458.8 692.2 1464.6 693.2 1472.9C694.2 1481.2 695.0 1492.7 695.9 1500.0C696.8 1507.3 697.7 1511.5 698.6 1517.0C699.5 1522.5 700.5 1528.1 701.4 1532.9C702.3 1537.7 703.2 1542.8 704.0 1546.0C704.8 1549.2 705.5 1550.5 706.3 1551.8C707.1 1553.1 708.0 1553.6 708.8 1553.6C709.6 1553.6 710.5 1553.1 711.3 1551.8C712.1 1550.5 712.8 1549.2 713.6 1546.0C714.4 1542.8 715.2 1537.7 716.2 1532.9C717.2 1528.1 718.4 1522.5 719.6 1517.0C720.8 1511.5 722.0 1509.3 723.4 1500.0C724.8 1490.7 725.7 1475.2 727.8 1461.0C729.9 1446.8 733.8 1427.7 736.0 1415.0C738.2 1402.3 739.3 1395.5 741.0 1385.0C742.7 1374.5 745.3 1357.5 746.2 1352.0" stroke="#0000ff" stroke-width="3.2" fill="none"/><path d="M138.2 1691.6C141.8 1690.4 152.7 1686.8 160.0 1684.3C167.3 1681.8 173.1 1679.9 181.8 1676.3C190.5 1672.7 201.6 1668.2 212.2 1662.8C222.8 1657.4 235.5 1650.3 245.1 1643.9C254.7 1637.5 261.6 1631.9 269.8 1624.2C278.0 1616.5 287.5 1605.9 294.4 1597.9C301.2 1590.0 305.7 1583.3 310.9 1576.5C316.1 1569.7 319.9 1564.9 325.4 1557.1C330.9 1549.3 338.0 1538.3 343.8 1529.6C349.6 1520.9 354.7 1513.1 360.2 1505.0C365.7 1496.9 371.2 1489.0 376.7 1481.1C382.2 1473.2 387.9 1465.3 393.1 1457.8C398.3 1450.3 402.8 1442.7 407.9 1436.2C413.0 1429.7 418.6 1424.0 424.0 1418.6C429.4 1413.2 431.9 1410.9 440.0 1403.8C448.1 1396.7 461.9 1383.9 472.9 1375.8C483.9 1367.7 494.8 1361.5 505.8 1355.3C516.8 1349.1 527.7 1343.7 538.7 1338.8C549.7 1333.9 559.6 1330.3 571.6 1325.7C583.6 1321.1 601.4 1315.1 611.0 1311.2C620.6 1307.3 623.3 1306.1 629.1 1302.6C634.9 1299.1 640.1 1295.1 645.6 1290.3C651.1 1285.5 657.4 1278.4 662.0 1273.9C666.6 1269.4 669.9 1265.5 673.5 1263.2C677.1 1260.9 680.4 1259.9 683.4 1259.9C686.4 1259.9 688.9 1261.4 691.6 1263.2C694.3 1265.0 697.1 1268.7 699.8 1270.6C702.5 1272.5 705.2 1274.6 708.0 1274.7C710.8 1274.8 713.5 1274.0 716.3 1271.4C719.0 1268.8 721.5 1265.3 724.5 1259.1C727.5 1252.9 730.8 1243.6 734.4 1234.4C738.0 1225.2 744.0 1209.1 745.9 1204.0" stroke="#000" stroke-width="3.2" fill="none"/><circle cx="182.6" cy="1270.1" r="5.3" fill="#0000ff"/><circle cx="325.4" cy="1303.5" r="5.3" fill="#0000ff"/><circle cx="407.9" cy="1376.3" r="5.3" fill="#0000ff"/><circle cx="611" cy="1344.1" r="5.3" fill="#0000ff"/><circle cx="181.8" cy="1676.3" r="5.3" fill="#000"/><circle cx="325.4" cy="1557.1" r="5.3" fill="#000"/><circle cx="407.9" cy="1436.2" r="5.3" fill="#000"/><circle cx="611" cy="1311.2" r="5.3" fill="#000"/><path d="M137.9 1202.5V1692.4H737.4" stroke="#000" stroke-width="2.5" fill="none"/><path d="M136.8 1203.6H746.4V1692.4H736.4" stroke="#0000ff" stroke-width="2.5" fill="none"/><text x="127.6" y="1702.0" font-size="32" class="se" text-anchor="end">0.0</text><text x="127.6" y="1579.8" font-size="32" class="se" text-anchor="end">0.5</text><text x="127.6" y="1457.6" font-size="32" class="se" text-anchor="end">1.0</text><text x="127.6" y="1335.4" font-size="32" class="se" text-anchor="end">1.5</text><text x="127.6" y="1213.2" font-size="32" class="se" text-anchor="end">2.0</text><text x="756" y="1702.0" font-size="32" class="se" fill="#0000ff">0.0</text><text x="756" y="1604.2" font-size="32" class="se" fill="#0000ff">0.2</text><text x="756" y="1506.5" font-size="32" class="se" fill="#0000ff">0.4</text><text x="756" y="1408.7" font-size="32" class="se" fill="#0000ff">0.6</text><text x="756" y="1311.0" font-size="32" class="se" fill="#0000ff">0.8</text><text x="756" y="1213.2" font-size="32" class="se" fill="#0000ff">1.0</text><text x="137.9" y="1729.2" font-size="32" class="se" text-anchor="middle">60</text><text x="224.8" y="1729.2" font-size="32" class="se" text-anchor="middle">80</text><text x="398.7" y="1729.2" font-size="32" class="se" text-anchor="middle">120</text><text x="572.5" y="1729.2" font-size="32" class="se" text-anchor="middle">160</text><text x="746.4" y="1729.2" font-size="32" class="se" text-anchor="middle">200</text><text x="442" y="1774.4" font-size="42.6" class="se" text-anchor="middle" font-weight="bold"><tspan font-style="italic">Ly</tspan> (nm)</text><text transform="translate(67.8 1447.7) rotate(-90)" font-size="41.7" class="se" text-anchor="middle" font-weight="bold">Phase (π)</text><text transform="translate(838.8 1442) rotate(-90)" font-size="41.7" class="se" text-anchor="middle" fill="#0000ff">Transmission</text></g>
<g><text x="790" y="772" font-size="49.5" class="sa" font-weight="bold">e</text><text x="847.5" y="794.8" font-size="59" class="se" font-weight="bold">Array A</text><text x="847.5" y="1150.2" font-size="59" class="se" font-weight="bold">Array B</text><text x="1156" y="794.8" font-size="58" class="se" font-weight="bold" font-style="italic" text-anchor="middle">1</text><text x="1379" y="794.8" font-size="58" class="se" font-weight="bold" font-style="italic" text-anchor="middle">2</text><text x="1605.5" y="794.8" font-size="58" class="se" font-weight="bold" font-style="italic" text-anchor="middle">3</text><text x="1826.5" y="794.8" font-size="58" class="se" font-weight="bold" font-style="italic" text-anchor="middle">4</text><rect x="1052" y="818.2" width="891.3" height="210.5" fill="#a2cfe1"/><rect x="1052" y="1163.5" width="891.3" height="210.7" fill="#a2cfe1"/><rect x="1052" y="1520.8" width="891.3" height="210.3" fill="#a2cfe1"/><rect x="1124.8" y="833.7" width="74.8" height="178.3" fill="#3c69a1"/><rect x="1346.8" y="858.9" width="75.5" height="128.1" fill="#3c69a1"/><rect x="1571.7" y="869.4" width="76.2" height="108.4" fill="#3c69a1"/><rect x="1795.7" y="887.2" width="76.2" height="74.1" fill="#3c69a1"/><path d="M1422.3 860.3H1451.2M1422.3 986.6H1451.2M1347.3 985V1005M1421.3 985V1005" stroke="#000" stroke-width="2.3" fill="none"/><path d="M1438.3 868.0L1438.3 979.0" stroke="#000" stroke-width="2.6" fill="none"/><path d="M1438.3 986.0L1430.9 972.5L1438.3 978.2L1445.7 972.5ZM1438.3 861.0L1445.7 874.5L1438.3 868.8L1430.9 874.5Z" fill="#000"/><path d="M1355.0 996.5L1413.5 996.5" stroke="#000" stroke-width="2.6" fill="none"/><path d="M1420.5 996.5L1407.0 1003.9L1412.7 996.5L1407.0 989.1ZM1348.0 996.5L1361.5 989.1L1355.8 996.5L1361.5 1003.9Z" fill="#000"/><text x="1451.5" y="942.3" font-size="60" class="se" font-weight="bold" font-style="italic">L<tspan font-size="54.0">y</tspan></text><text x="1366" y="1038" font-size="57" class="se" font-weight="bold" font-style="italic">w</text><path d="M1904.5 870.1L1904.5 965.7" stroke="#000" stroke-width="3.3" fill="none"/><path d="M1904.5 973.3L1897.3 958.9L1904.5 964.9L1911.7 958.9ZM1904.5 862.5L1911.7 876.9L1904.5 870.9L1897.3 876.9Z" fill="#000"/><text x="1885" y="1022.7" font-size="60" class="se" font-weight="bold" font-style="italic">E</text><path d="M1472.4 1057.3H1523V1075.2H1540.8V1110H1523V1127.7H1472.4V1110H1454.8V1075.2H1472.4Z" transform="translate(0 5.5)" fill="#6d7ea6" stroke="#6d7ea6" stroke-width="5" opacity="0.8" filter="url(#sh1)"/><path d="M1472.4 1057.3H1523V1075.2H1540.8V1110H1523V1127.7H1472.4V1110H1454.8V1075.2H1472.4Z" fill="#a2cfe1" stroke="#3a66a0" stroke-width="4.2" stroke-linejoin="miter"/><rect x="1124.8" y="1232.3" width="74.8" height="73.1" fill="#3c69a1"/><rect x="1330.5" y="1231.5" width="111.2" height="73.0" fill="#3c69a1"/><rect x="1542.8" y="1231.5" width="132.6" height="73.0" fill="#3c69a1"/><rect x="1741.8" y="1231.5" width="183.2" height="73.0" fill="#3c69a1"/><path d="M1301.3 1231.5H1330M1301.3 1301.8H1330M1329.6 1301.8V1337.6M1440.4 1303V1337.6" stroke="#000" stroke-width="2.3" fill="none"/><path d="M1318.3 1239.3L1318.3 1294.0" stroke="#000" stroke-width="2.6" fill="none"/><path d="M1318.3 1301.0L1310.9 1287.5L1318.3 1293.2L1325.7 1287.5ZM1318.3 1232.3L1325.7 1245.8L1318.3 1240.1L1310.9 1245.8Z" fill="#000"/><path d="M1338.0 1320.0L1432.5 1320.0" stroke="#000" stroke-width="2.6" fill="none"/><path d="M1439.5 1320.0L1426.0 1327.4L1431.7 1320.0L1426.0 1312.6ZM1331.0 1320.0L1344.5 1312.6L1338.8 1320.0L1344.5 1327.4Z" fill="#000"/><text x="1258" y="1287.8" font-size="57" class="se" font-weight="bold" font-style="italic">w</text><text x="1353" y="1373.3" font-size="60" class="se" font-weight="bold" font-style="italic">L<tspan font-size="52.8">x</tspan></text><path d="M1755.4 1341.5L1876.1 1341.5" stroke="#000" stroke-width="3.3" fill="none"/><path d="M1883.7 1341.5L1869.3 1348.7L1875.3 1341.5L1869.3 1334.3ZM1747.8 1341.5L1762.2 1334.3L1756.2 1341.5L1762.2 1348.7Z" fill="#000"/><text x="1888" y="1360" font-size="60" class="se" font-weight="bold" font-style="italic">E</text><path d="M1476.1 1395.5H1519.2V1451.9H1540.8L1497.7 1494.5L1455.2 1451.9H1476.1Z" fill="#9fb0cf" stroke="#9fb0cf" stroke-width="8" opacity="0.75" filter="url(#sh2)"/><rect x="1052" y="1520.8" width="891.3" height="30" fill="#a2cfe1" opacity="0.85"/><path d="M1476.1 1395.5H1519.2V1451.9H1540.8L1497.7 1494.5L1455.2 1451.9H1476.1Z" fill="#a2cfe1" stroke="#3a66a0" stroke-width="4.2" stroke-linejoin="miter"/><rect x="1123.3" y="1537.5" width="76.1" height="178.0" fill="#3c69a1"/><rect x="1348" y="1562" width="76.7" height="129.0" fill="#3c69a1"/><rect x="1330.6" y="1588.5" width="112.1" height="73.7" fill="#3c69a1"/><rect x="1572" y="1571.7" width="76.8" height="108.3" fill="#3c69a1"/><rect x="1543.3" y="1588.5" width="133.0" height="73.7" fill="#3c69a1"/><rect x="1741.7" y="1588.5" width="183.3" height="73.7" fill="#3c69a1"/><rect x="1795.6" y="1588.5" width="76.2" height="74.9" fill="#3c69a1"/><path d="M896.6 1672.3L896.6 1581.9" stroke="#000" stroke-width="3.5" fill="none"/><path d="M905.8 1596.2L896.6 1582.5L887.4 1596.2" stroke="#000" stroke-width="3.5" fill="none" stroke-linejoin="miter" stroke-miterlimit="10" stroke-linecap="round"/><path d="M894.9 1670.6L1002.1 1670.6" stroke="#000" stroke-width="3.5" fill="none"/><path d="M987.7 1679.8L1001.4 1670.6L987.7 1661.4" stroke="#000" stroke-width="3.5" fill="none" stroke-linejoin="miter" stroke-miterlimit="10" stroke-linecap="round"/><circle cx="896.2" cy="1670.8" r="10.6" fill="none" stroke="#000" stroke-width="4.4"/><text x="886" y="1558.5" font-size="60" class="se" font-weight="bold" font-style="italic">y</text><text x="1008" y="1681" font-size="60" class="se" font-weight="bold" font-style="italic">x</text><text x="889" y="1715" font-size="60" class="se" font-weight="bold" font-style="italic">z</text></g>
</svg>
</body></html>
